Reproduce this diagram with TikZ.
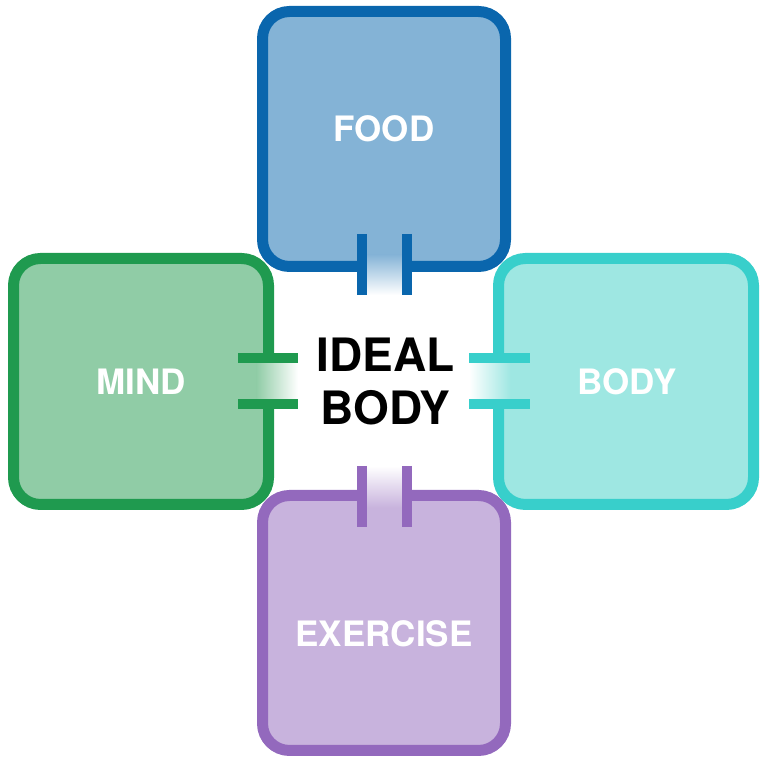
\documentclass[tikz,border=0pt]{standalone}
\usepackage{fontspec}
\setmainfont{TeX Gyre Heros}
\usetikzlibrary{calc}

\definecolor{foodline}{HTML}{0A66AD}
\definecolor{foodfill}{HTML}{84B3D6}
\definecolor{mindline}{HTML}{1F9A4F}
\definecolor{mindfill}{HTML}{90CCA6}
\definecolor{bodyline}{HTML}{38CFCB}
\definecolor{bodyfill}{HTML}{9EE7E2}
\definecolor{exline}{HTML}{9369BD}
\definecolor{exfill}{HTML}{C8B3DD}

\begin{document}
\begin{tikzpicture}[x=1pt, y=1pt,
  panel/.style={rectangle, rounded corners=27pt, line width=11pt, outer sep=0pt, inner sep=0pt},
  bar/.style={line width=10pt},
  boxtxt/.style={text=white, font=\fontsize{35}{40}\selectfont\bfseries},
  bigtxt/.style={font=\fontsize{46}{53}\selectfont\bfseries, align=center}]

  \useasboundingbox (0,0) rectangle (768,762);

  % --- 1. 4つの箱 ---
  \node[panel, draw=foodline, fill=foodfill, minimum width=243pt, minimum height=255pt] (food) at (384,623) {};
  \node[panel, draw=mindline, fill=mindfill, minimum width=255pt, minimum height=246pt] (mind) at (141,380.5) {};
  \node[panel, draw=bodyline, fill=bodyfill, minimum width=255pt, minimum height=246pt] (body) at (626,380.5) {};
  \node[panel, draw=exline, fill=exfill, minimum width=243pt, minimum height=255pt] (exercise) at (384,139) {};

  % --- 2. 接続部 (グラデーション) ---
  \shade[top color=foodfill, bottom color=white] ($(food.south)+(-17.5,12)$) rectangle ($(food.south)+(17.5,-28.5)$);
  \shade[left color=mindfill, right color=white] ($(mind.east)+(-12,18)$) rectangle ($(mind.east)+(29.5,-18)$);
  \shade[left color=white, right color=bodyfill] ($(body.west)+(-29.5,18)$) rectangle ($(body.west)+(12,-18)$);
  \shade[top color=white, bottom color=exfill] ($(exercise.north)+(-17.5,29.5)$) rectangle ($(exercise.north)+(17.5,-12)$);

  % --- 3. 接続部の棒 ---
  \draw[bar, foodline] ($(food.south)+(-22.5,32.5)$) -- ($(food.south)+(-22.5,-28.5)$);
  \draw[bar, foodline] ($(food.south)+(22.5,32.5)$) -- ($(food.south)+(22.5,-28.5)$);

  \draw[bar, mindline] ($(mind.east)+(-30.5,23)$) -- ($(mind.east)+(29.5,23)$);
  \draw[bar, mindline] ($(mind.east)+(-30.5,-23)$) -- ($(mind.east)+(29.5,-23)$);

  \draw[bar, bodyline] ($(body.west)+(-29.5,23)$) -- ($(body.west)+(31.5,23)$);
  \draw[bar, bodyline] ($(body.west)+(-29.5,-23)$) -- ($(body.west)+(31.5,-23)$);

  \draw[bar, exline] ($(exercise.north)+(-22.5,29.5)$) -- ($(exercise.north)+(-22.5,-31.5)$);
  \draw[bar, exline] ($(exercise.north)+(22.5,29.5)$) -- ($(exercise.north)+(22.5,-31.5)$);

  % --- 4. ラベル ---
  \node[boxtxt] (foodtxt) at ($(food)+(0,10.5)$) {FOOD};
  \node[boxtxt] (mindtxt) at (mind) {MIND};
  \node[boxtxt] (bodytxt) at ($(body)+(1,0)$) {BODY};
  \node[boxtxt] (extxt) at ($(exercise)+(0,-10.5)$) {EXERCISE};

  % --- 5. 中央 ---
  \node[bigtxt] (ideal) at (385.5,380.5) {IDEAL\\BODY};

\end{tikzpicture}
\end{document}
